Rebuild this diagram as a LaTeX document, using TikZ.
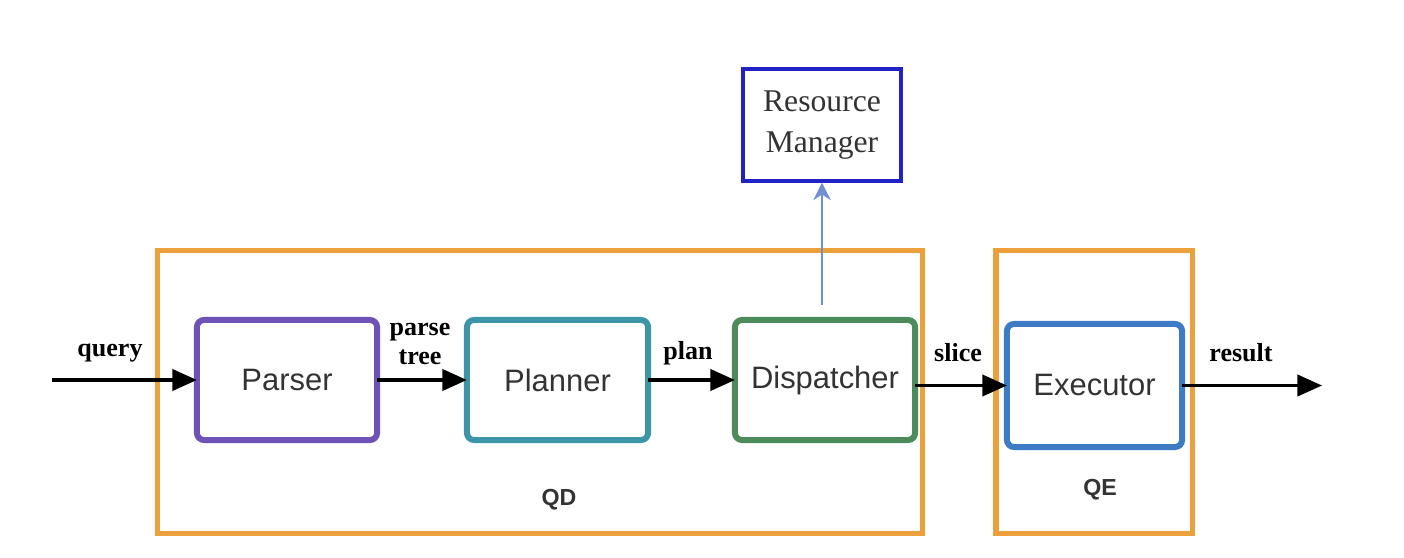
\documentclass[tikz,border=0pt]{standalone}
\usepackage{fontspec}
\setmainfont{Liberation Serif}
\setsansfont{Liberation Sans}
\usetikzlibrary{arrows.meta}
\definecolor{qorange}{HTML}{EBA03C}
\definecolor{cparser}{HTML}{6F52B5}
\definecolor{cplanner}{HTML}{3C96A8}
\definecolor{cdisp}{HTML}{4C8C5C}
\definecolor{cexec}{HTML}{3D7CC4}
\definecolor{crm}{HTML}{2222C4}
\definecolor{crmarrow}{HTML}{7090D0}
\definecolor{txt}{HTML}{333333}
\tikzset{
  group/.style={draw=qorange, line width=1.45pt},
  comp/.style={draw=#1, line width=1.7pt, rounded corners=2pt, inner sep=0pt, outer sep=0pt,
    font=\sffamily\fontsize{8.8}{10}\selectfont, text=txt},
  flow/.style={line width=1.05pt, -{Triangle[length=7pt,width=6pt]}},
  lbl/.style={font=\bfseries\fontsize{7.4}{8}\selectfont, text=black, inner sep=0pt, align=center},
  grplbl/.style={font=\sffamily\bfseries\fontsize{6.6}{8}\selectfont, text=txt, inner sep=0pt}
}
\begin{document}
\begin{tikzpicture}[x=0.01cm, y=-0.01cm]
\fill[white] (0,0) rectangle (1404,558);
\useasboundingbox (0,0) rectangle (1404,558);
% groups
\node[group, minimum width=7.64cm, minimum height=2.82cm, inner sep=0pt] (QD) at (540,392) {};
\node[group, minimum width=1.96cm, minimum height=2.82cm, inner sep=0pt] (QE) at (1094,392) {};
\node[grplbl] (QDl) at (559,500) {QD};
\node[grplbl] (QEl) at (1100,490) {QE};
% components
\node[comp=cparser, minimum width=1.80cm, minimum height=1.20cm] (parser) at (287,380) {Parser};
\node[comp=cplanner, minimum width=1.81cm, minimum height=1.20cm] (planner) at (557.5,380) {Planner};
\node[comp=cdisp, minimum width=1.80cm, minimum height=1.20cm] (disp) at (825,380) {Dispatcher};
\node[comp=cexec, minimum width=1.75cm, minimum height=1.23cm] (exec) at (1094.5,385.5) {Executor};
\node[draw=crm, line width=0.9pt, minimum width=1.58cm, minimum height=1.12cm, inner sep=0pt,
  align=center, font=\fontsize{9}{11.5}\selectfont, text=txt] (rm) at (822,125) {Resource\\Manager};
% connectors
\coordinate (qin) at (52,380);
\path (exec.east) ++(140,0) coordinate (rout);
\coordinate (rmfrom) at (822,305);
\draw[flow] (qin) -- (parser.west);
\draw[flow] (parser.east) -- (planner.west);
\draw[flow] (planner.east) -- (disp.west);
\draw[flow] (disp.east |- exec.west) -- (exec.west);
\draw[flow] (exec.east) -- (rout);
\draw[line width=0.7pt, draw=crmarrow, -{Stealth[length=5pt,width=5pt]}] (rmfrom) -- (rm.south);
% labels
\node[lbl] (lq) at (110,353) {query};
\node[lbl, font=\bfseries\fontsize{7.4}{8.4}\selectfont] (lpt) at (420,344) {parse\\tree};
\node[lbl] (lplan) at (688,353) {plan};
\node[lbl] (lslice) at (958,353) {slice};
\node[lbl] (lres) at (1241,353) {result};
\end{tikzpicture}
\end{document}
